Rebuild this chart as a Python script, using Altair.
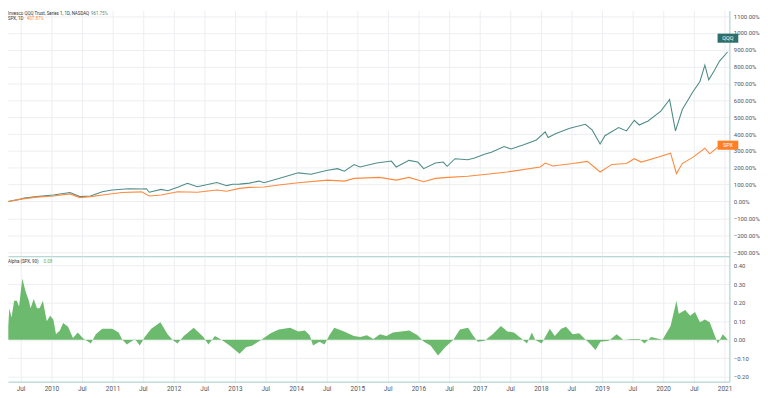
import altair as alt
import pandas as pd

# ---------------- data ----------------
qqq_t = [2009.295, 2009.498, 2009.551, 2009.759, 2010.032, 2010.304, 2010.464, 2010.640,
         2010.832, 2010.992, 2011.265, 2011.473, 2011.553, 2011.601, 2011.793, 2011.905,
         2012.065, 2012.225, 2012.386, 2012.706, 2012.866, 2012.962, 2013.074, 2013.234,
         2013.394, 2013.474, 2013.715, 2014.035, 2014.243, 2014.515, 2014.675, 2014.788,
         2014.948, 2015.044, 2015.316, 2015.556, 2015.636, 2015.844, 2015.988, 2016.085,
         2016.277, 2016.405, 2016.469, 2016.597, 2016.805, 2016.917, 2017.077, 2017.189,
         2017.398, 2017.510, 2017.718, 2017.926, 2018.070, 2018.118, 2018.246, 2018.471,
         2018.727, 2018.839, 2018.967, 2019.047, 2019.271, 2019.399, 2019.527, 2019.607,
         2019.752, 2019.960, 2020.104, 2020.200, 2020.312, 2020.488, 2020.600, 2020.680,
         2020.744, 2020.840, 2020.920, 2021.049]
qqq_v = [0, 14, 20, 29, 39, 53, 29, 33,
         58, 68, 76, 74, 76, 55, 72, 64,
         84, 108, 88, 113, 94, 102, 103, 109,
         121, 111, 137, 170, 162, 185, 195, 180,
         219, 205, 228, 240, 205, 244, 234, 195,
         228, 234, 209, 254, 248, 258, 280, 292,
         326, 312, 337, 365, 413, 380, 404, 435,
         458, 423, 341, 390, 439, 419, 482, 454,
         478, 536, 605, 419, 546, 653, 712, 809,
         722, 780, 833, 887]

spx_t = [2009.295, 2009.498, 2009.759, 2010.032, 2010.304, 2010.464, 2010.640, 2010.832,
         2011.153, 2011.473, 2011.601, 2011.793, 2012.065, 2012.386, 2012.706, 2012.866,
         2013.074, 2013.234, 2013.474, 2013.715, 2014.035, 2014.515, 2014.788, 2014.948,
         2015.364, 2015.636, 2015.844, 2016.085, 2016.277, 2016.485, 2016.805, 2016.917,
         2017.077, 2017.446, 2017.990, 2018.070, 2018.198, 2018.519, 2018.759, 2018.967,
         2019.159, 2019.399, 2019.527, 2019.639, 2019.912, 2020.120, 2020.216, 2020.312,
         2020.488, 2020.680, 2020.760, 2020.888, 2021.049]
spx_v = [0, 14, 26, 33, 45, 23, 29, 39,
         53, 57, 33, 39, 58, 55, 68, 61,
         78, 84, 86, 98, 111, 127, 121, 137,
         143, 127, 143, 117, 137, 143, 150, 154,
         160, 175, 205, 228, 211, 225, 238, 175,
         220, 225, 254, 234, 263, 287, 166, 225,
         263, 316, 283, 322, 337]

alpha_t = [2009.295, 2009.311, 2009.348, 2009.391, 2009.434, 2009.471, 2009.524, 2009.578,
           2009.631, 2009.659, 2009.711, 2009.764, 2009.807, 2009.860, 2009.924, 2009.979,
           2010.032, 2010.075, 2010.139, 2010.192, 2010.272, 2010.352, 2010.432, 2010.512,
           2010.645, 2010.725, 2010.832, 2010.992, 2011.100, 2011.153, 2011.233, 2011.366,
           2011.446, 2011.526, 2011.633, 2011.782, 2011.900, 2011.980, 2012.061, 2012.166,
           2012.326, 2012.487, 2012.567, 2012.674, 2012.781, 2012.914, 2013.074, 2013.181,
           2013.287, 2013.447, 2013.582, 2013.715, 2013.902, 2014.035, 2014.142, 2014.222,
           2014.275, 2014.382, 2014.462, 2014.543, 2014.623, 2014.783, 2014.943, 2015.049,
           2015.156, 2015.263, 2015.369, 2015.476, 2015.583, 2015.716, 2015.849, 2015.984,
           2016.090, 2016.197, 2016.320, 2016.437, 2016.570, 2016.677, 2016.810, 2016.890,
           2016.970, 2017.077, 2017.210, 2017.345, 2017.451, 2017.558, 2017.691, 2017.771,
           2017.851, 2017.905, 2018.011, 2018.145, 2018.226, 2018.332, 2018.411, 2018.519,
           2018.626, 2018.732, 2018.812, 2018.892, 2018.972, 2019.106, 2019.239, 2019.346,
           2019.479, 2019.613, 2019.693, 2019.800, 2019.987, 2020.120, 2020.216, 2020.253,
           2020.360, 2020.440, 2020.520, 2020.600, 2020.680, 2020.760, 2020.840, 2020.893,
           2020.973, 2021.053]
alpha_v = [0.07, 0.17, 0.12, 0.21, 0.21, 0.18, 0.33, 0.26,
           0.21, 0.17, 0.22, 0.17, 0.17, 0.21, 0.10, 0.13,
           0.11, 0.03, 0.05, 0.09, 0.07, 0.01, 0.04, 0.01,
           -0.02, 0.03, 0.06, 0.06, 0.04, 0.005, -0.025, 0.005,
           -0.03, 0.015, 0.06, 0.095, 0.03, 0.0, -0.02, 0.02,
           0.065, 0.015, -0.025, 0.02, 0.0, -0.03, -0.075, -0.04,
           -0.03, 0.005, 0.035, 0.055, 0.065, 0.045, 0.05, 0.025,
           -0.03, -0.01, -0.025, 0.025, 0.065, 0.045, 0.02, 0.015,
           0.025, 0.005, 0.03, 0.02, 0.04, 0.045, 0.05, 0.025,
           -0.01, -0.03, -0.085, -0.04, 0.0, 0.055, 0.065, 0.025,
           -0.01, -0.005, 0.03, 0.075, 0.045, 0.04, 0.005, -0.02,
           0.04, 0.0, -0.02, 0.06, 0.02, 0.06, 0.07, 0.03,
           0.035, 0.0, -0.025, -0.055, -0.01, -0.005, 0.03, 0.0,
           0.005, 0.005, -0.02, 0.015, 0.0, 0.075, 0.21, 0.14,
           0.16, 0.13, 0.15, 0.095, 0.11, 0.095, 0.025, -0.02,
           0.03, 0.0]

tag_labels = ["QQQ", "SPX"]
tag_values = [969, 334]
tag_colors = ["#2f6f6b", "#ff7f27"]

main_ticks = list(range(-300, 1101, 100))
alpha_ticks = [-0.2, -0.1, 0.0, 0.1, 0.2, 0.3, 0.4]

QQQ_COLOR = "#4f8d88"
SPX_COLOR = "#ff8a3d"
ALPHA_COLOR = "#5cb35e"
AXIS_LINE = "#9fcac8"
GRID = "#eceef1"
LABEL = "#50535e"
LEG_FS = 4.5


def to_date(t):
    y = int(t)
    return pd.Timestamp(year=y, month=1, day=1) + pd.Timedelta(days=(t - y) * 365.25)


qqq_df = pd.DataFrame({"date": [to_date(t) for t in qqq_t], "v": qqq_v})
spx_df = pd.DataFrame({"date": [to_date(t) for t in spx_t], "v": spx_v})
alpha_df = pd.DataFrame({"date": [to_date(t) for t in alpha_t], "v": alpha_v})
tag_df = pd.DataFrame({"label": tag_labels, "v": tag_values, "c": tag_colors})
tag_df["lo"] = tag_df["v"] - 27
tag_df["hi"] = tag_df["v"] + 27

tick_dates = []
for y in range(2009, 2022):
    tick_dates.append(alt.DateTime(year=y, month=1, date=1))
    tick_dates.append(alt.DateTime(year=y, month=7, date=1))

x_domain = [alt.DateTime(year=2009, month=4, date=17), alt.DateTime(year=2021, month=1, date=30)]
x_scale = alt.Scale(domain=x_domain)
W = 731

x_axis_hidden = alt.Axis(values=tick_dates, labels=False, ticks=False, title=None,
                         domainColor=AXIS_LINE, gridColor=GRID)
x_axis_bottom = alt.Axis(values=tick_dates, title=None, ticks=False, domainColor=AXIS_LINE,
                         gridColor=GRID, labelFontSize=6.5, labelColor=LABEL, labelPadding=4,
                         labelFont="Roboto", labelOverlap=False,
                         labelExpr="month(datum.value) == 0 ? timeFormat(datum.value, '%Y') : 'Jul'")

main_scale = alt.Scale(domain=[-325, 1133], nice=False, zero=False)
main_axis = alt.Axis(orient="right", values=main_ticks, title=None, ticks=False,
                     domainColor=AXIS_LINE, gridColor=GRID, labelFontSize=6,
                     labelColor=LABEL, labelPadding=4, labelFont="Roboto",
                     labelOverlap=False, labelBound=False, labelFlush=False,
                     labelExpr="format(datum.value, '.2f') + '%'")

qqq_line = alt.Chart(qqq_df).mark_line(color=QQQ_COLOR, strokeWidth=1.1, clip=True).encode(
    x=alt.X("date:T", scale=x_scale, axis=x_axis_hidden),
    y=alt.Y("v:Q", scale=main_scale, axis=main_axis))
spx_line = alt.Chart(spx_df).mark_line(color=SPX_COLOR, strokeWidth=1.1, clip=True).encode(
    x=alt.X("date:T", scale=x_scale, axis=x_axis_hidden),
    y=alt.Y("v:Q", scale=main_scale, axis=main_axis))

tag_box = alt.Chart(tag_df).mark_rect().encode(
    x=alt.value(719), x2=alt.value(740),
    y=alt.Y("hi:Q", scale=main_scale, axis=main_axis), y2="lo:Q",
    color=alt.Color("c:N", scale=None))
tag_text = alt.Chart(tag_df).mark_text(color="white", fontSize=5.5, font="Roboto").encode(
    x=alt.value(729.5), y=alt.Y("v:Q", scale=main_scale, axis=main_axis), text="label:N")


def label(txt, x, y, color):
    return alt.Chart(qqq_df.head(1)).mark_text(
        align="left", baseline="top", fontSize=LEG_FS, color=color, font="Roboto").encode(
        x=alt.value(x), y=alt.value(y), text=alt.value(txt))


main = alt.layer(
    qqq_line, spx_line, tag_box, tag_text,
    label("Invesco QQQ Trust, Series 1, 1D, NASDAQ", 0, 1, "#333"),
    label("961.75%", 84, 1, QQQ_COLOR),
    label("SPX, 1D", 0, 6, "#333"),
    label("407.87%", 19, 6, SPX_COLOR),
).properties(width=W, height=249)

y_alpha = alt.Y("v:Q", scale=alt.Scale(domain=[-0.225, 0.45], nice=False, zero=False),
                axis=alt.Axis(orient="right", values=alpha_ticks, title=None, ticks=False,
                              domainColor=AXIS_LINE, gridColor=GRID, labelFontSize=6,
                              labelColor=LABEL, labelPadding=4, labelFont="Roboto",
                              labelOverlap=False, labelBound=False, labelFlush=False,
                              format=".2f"))
alpha_area = alt.Chart(alpha_df).mark_area(color=ALPHA_COLOR, opacity=0.9, clip=True,
                                           interpolate="linear").encode(
    x=alt.X("date:T", scale=x_scale, axis=x_axis_bottom), y=y_alpha)

lower = alt.layer(
    alpha_area,
    label("Alpha (SPX, 90)", 0, 3, "#333"),
    label("0.08", 36, 3, ALPHA_COLOR),
).properties(width=W, height=127)

chart = alt.vconcat(main, lower, spacing=0).properties(padding=0).configure_view(
    stroke=None).configure_axis(domainWidth=1, labelOverlap=False)

chart.save("out.html", embed_options={"renderer": "svg", "actions": False})
